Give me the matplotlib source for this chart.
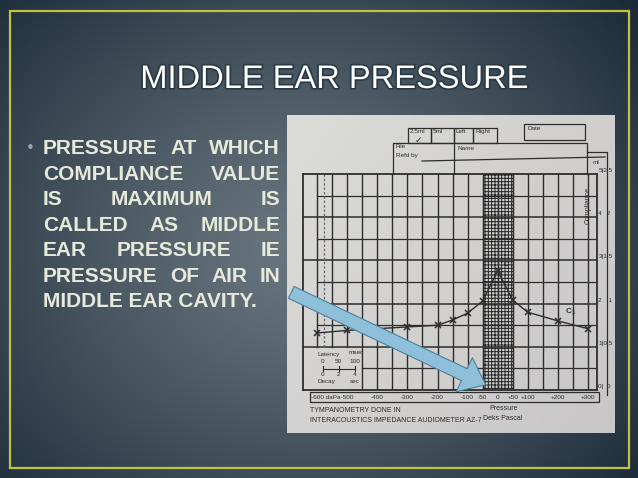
import numpy as np
import matplotlib
matplotlib.use('Agg')
import matplotlib.pyplot as plt
from matplotlib.patches import Rectangle, FancyArrowPatch
from matplotlib.colors import to_rgb
import matplotlib.patheffects as pe

# ---------------- data ----------------
pressure = [-600, -500, -300, -200, -150, -100, -50, 0, 50, 100, 200, 300]
compliance = [0.66, 0.69, 0.73, 0.75, 0.81, 0.89, 1.03, 1.38, 1.04, 0.90, 0.80, 0.71]
grid_pressure = list(range(-600, 301, 50))
major_ml = [0.5, 1.0, 1.5, 2.0]
minor_ml = [0.25, 0.75, 1.25, 1.75, 2.25]
tick_pressure = [-400, -300, -200, -100, -50, 0, 50, 100, 200, 300]
tick_labels = ['-400', '-300', '-200', '-100', '-50', '0', '+50', '+100', '+200', '+300']
scale_ml = [2.5, 2.0, 1.5, 1.0, 0.5, 0.0]
scale_labels = ['5|2.5', '4   2', '3|1.5', '2    1', '1|0.5', '0|  0']
title = 'MIDDLE EAR PRESSURE'
bullet_lines = ['PRESSURE AT WHICH', 'COMPLIANCE VALUE', 'IS MAXIMUM IS',
                'CALLED AS MIDDLE', 'EAR PRESSURE IE', 'PRESSURE OF AIR IN',
                'MIDDLE EAR CAVITY.']

W, H = 638, 478
fig = plt.figure(figsize=(W / 100, H / 100), dpi=100)
bg = fig.add_axes([0, 0, 1, 1])
bg.set_xlim(0, W)
bg.set_ylim(H, 0)
bg.axis('off')

# slide background (radial gradient)
yy, xx = np.mgrid[0:H, 0:W]
rr = np.clip(np.hypot(xx - 300, (yy - 250) * 1.15) / 440, 0, 1)
c0 = np.array(to_rgb('#6a7780'))
c1 = np.array(to_rgb('#1b2a38'))
img = c0 + (c1 - c0) * (rr[..., None] ** 1.15)
bg.imshow(img, extent=(0, W, H, 0), zorder=0, aspect='auto', interpolation='bilinear')

bg.add_patch(Rectangle((10, 11), 619, 457, fill=False, ec='#c2c23c', lw=1.6, zorder=1))

bg.text(334, 88, title, ha='center', va='baseline', fontsize=23.5, color='white',
        family='Liberation Sans', zorder=3,
        path_effects=[pe.withStroke(linewidth=2.5, foreground='#2c3a46')])

# photo paper
py_, px_ = np.mgrid[0:100, 0:100] / 99.0
t = (px_ * 0.6 + py_ * 0.4)
p0 = np.array(to_rgb('#dcdcd8'))
p1 = np.array(to_rgb('#c8c6c7'))
paper = p0 + (p1 - p0) * t[..., None]
bg.imshow(paper, extent=(287, 615, 433, 115), zorder=2, aspect='auto', interpolation='bilinear')

ink = '#2d2d2d'
narrow = ['Liberation Sans Narrow', 'Liberation Sans']


def tt(x, y, s, size=4.6, **kw):
    kw.setdefault('color', ink)
    kw.setdefault('va', 'center')
    bg.text(x, y, s, fontsize=size, family=narrow, zorder=4, **kw)


def box(x0, y0, x1, y1, lw=0.9):
    bg.add_patch(Rectangle((x0, y0), x1 - x0, y1 - y0, fill=False, ec=ink, lw=lw, zorder=4))


# header form boxes
cells = [408, 431, 454, 473, 497]
for a, b, s in zip(cells[:-1], cells[1:], ['2.5ml', '5ml', 'Left', 'Right']):
    box(a, 128, b, 143)
    tt(a + 2, 131.5, s)
bg.text(415, 140, '\u2713', fontsize=6.5, color=ink, zorder=5, ha='left', va='center',
        family='DejaVu Sans', fontweight='bold')
box(524, 124, 585, 140)
tt(527, 129, 'Date')
bg.plot([393, 393, 587, 587], [174, 143, 143, 174], color=ink, lw=0.9, zorder=4)
bg.plot([454, 454], [143, 174], color=ink, lw=0.9, zorder=4)
tt(396, 147, 'File')
tt(396, 156, 'Refd by')
bg.plot([422, 605], [161, 157], color=ink, lw=0.9, zorder=4)
tt(457, 148, 'Name')
bg.plot([587, 607, 607], [152, 152, 395], color=ink, lw=0.9, zorder=4)
tt(593, 163, 'ml')

# bottom strip
box(310, 392, 599, 402)
tt(310, 411, 'TYMPANOMETRY DONE IN', size=5)
tt(310, 421, 'INTERACOUSTICS IMPEDANCE AUDIOMETER AZ-7', size=5)
tt(504, 408, 'Pressure', size=5, ha='center')
tt(503, 418, 'Deks Pascal', size=5, ha='center')

# ---------------- chart ----------------
ax = fig.add_axes([303 / W, (H - 390) / H, 294 / W, 216 / H])
ax.set_xlim(-647, 330)
ax.set_ylim(0, 2.5)
ax.patch.set_alpha(0)
ax.set_xticks([])
ax.set_yticks([])
ax.set_zorder(5)
for s in ax.spines.values():
    s.set_color(ink)
    s.set_linewidth(1.3)

for p in grid_pressure:
    lo = 0.5 if p < -450 else 0.0
    ax.plot([p, p], [lo, 2.5], color=ink, lw=1.0)
for m in major_ml:
    ax.plot([-647, 330], [m, m], color=ink, lw=1.1)
for m in minor_ml:
    start = -450 if m < 0.5 else -600
    ax.plot([start, 330], [m, m], color=ink, lw=0.9)

ax.plot([-577, -577], [0.5, 2.5], color='#6a6a6a', lw=0.9, ls=(0, (2, 1.5)))

plt.rcParams['hatch.linewidth'] = 0.7
ax.add_patch(Rectangle((-50, 0), 100, 2.5, fill=False, hatch='+++++', ec='#262626', lw=0.8))

ax.plot(pressure, compliance, color=ink, lw=1.0, marker='x', ms=5, mew=1.1, zorder=6)
ax.text(20, 1.44, 'C', fontsize=6, color=ink, family=narrow, fontweight='bold')
ax.text(225, 0.88, r'C$_\mathregular{1}$', fontsize=6, color=ink, family=narrow, fontweight='bold')

# latency / decay legend
lk = dict(fontsize=4.6, color=ink, family=narrow, va='center')
ax.text(-600, 0.41, 'Latency', **lk)
ax.text(-495, 0.43, 'msec', **lk)
ax.text(-581, 0.335, '0', ha='center', **lk)
ax.text(-528, 0.335, '50', ha='center', **lk)
ax.text(-475, 0.335, '100', ha='center', **lk)
ax.plot([-581, -475], [0.245, 0.245], color=ink, lw=0.8)
for v in (-581, -528, -475):
    ax.plot([v, v], [0.215, 0.275], color=ink, lw=0.8)
ax.text(-581, 0.185, '0', ha='center', **lk)
ax.text(-528, 0.185, '2', ha='center', **lk)
ax.text(-475, 0.185, '4', ha='center', **lk)
ax.text(-600, 0.10, 'Decay', **lk)
ax.text(-492, 0.10, 'sec', **lk)

ax.text(300, 2.14, 'Compliance', rotation=90, ha='center', va='center', fontsize=5,
        color=ink, family=narrow)

ytr = ax.get_yaxis_transform()
for v, s in zip(scale_ml, scale_labels):
    ax.text(1.005, v + 0.04, s, transform=ytr, fontsize=4.6, color=ink, family=narrow,
            ha='left', va='center', clip_on=False)

xtr = ax.get_xaxis_transform()
ax.text(-550, -0.033, '-600 daPa-500', transform=xtr, fontsize=4.6, color=ink,
        family=narrow, ha='center', va='center', clip_on=False)
for v, s in zip(tick_pressure, tick_labels):
    ax.text(v, -0.033, s, transform=xtr, fontsize=4.6, color=ink, family=narrow,
            ha='center', va='center', clip_on=False)

arrow = FancyArrowPatch(posA=(-686, 1.13), posB=(-40, 0.06),
                        arrowstyle='simple,head_length=1.7,head_width=2.7,tail_width=0.95',
                        mutation_scale=10, fc='#8ec1d9', ec='#4f809e', lw=0.8,
                        shrinkA=0, shrinkB=0, clip_on=False, zorder=10)
ax.add_patch(arrow)

# ---------------- bullet text (justified) ----------------
fig.canvas.draw()
rend = fig.canvas.get_renderer()
x0, x1 = 43, 280
base0, step = 154, 25.5
tk = dict(fontsize=15, color='#e6eadb', family='Liberation Sans', fontweight='bold',
          va='baseline', ha='left', zorder=3)
bg.text(26, base0 - 1, '\u2022', fontsize=11, color='#9aa8b6', va='baseline', zorder=3)
for i, line in enumerate(bullet_lines):
    y = base0 + i * step
    if i == len(bullet_lines) - 1:
        bg.text(x0, y, line, **tk)
        continue
    words = line.split()
    texts = [bg.text(0, y, w, **tk) for w in words]
    widths = [tx.get_window_extent(rend).width for tx in texts]
    gap = (x1 - x0 - sum(widths)) / (len(words) - 1)
    x = x0
    for tx, w in zip(texts, widths):
        tx.set_x(x)
        x += w + gap

fig.savefig('out.png', dpi=100)
